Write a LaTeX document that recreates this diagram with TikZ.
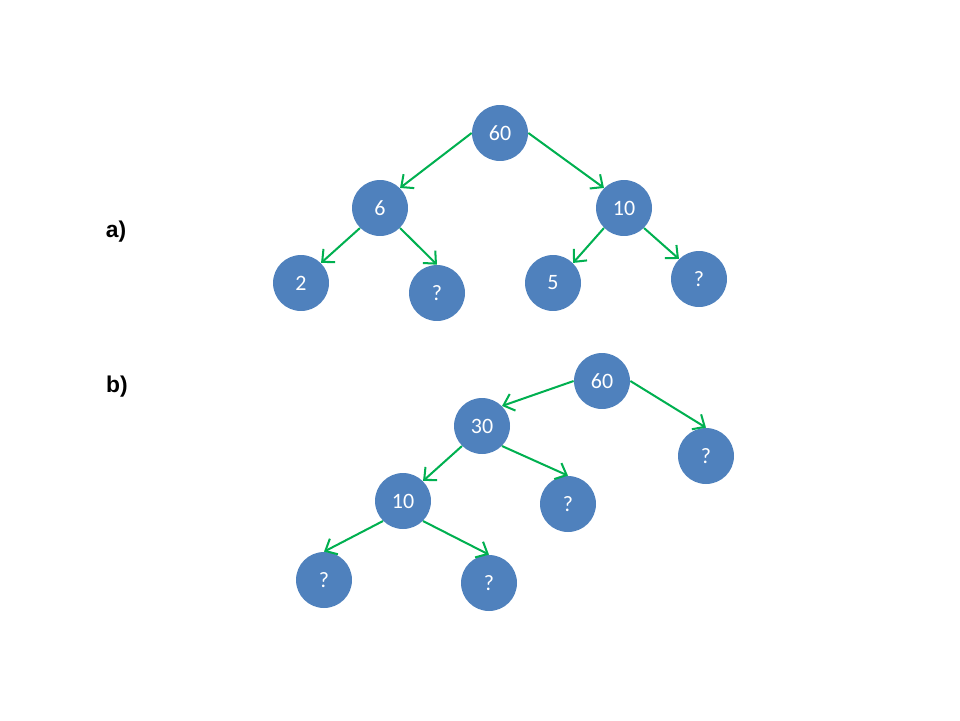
\documentclass[tikz,border=0pt]{standalone}
\usepackage{fontspec}
\setmainfont{Carlito}
\newfontfamily\labelfont{Liberation Sans}
\usetikzlibrary{positioning}
\usetikzlibrary{arrows.meta}
\definecolor{nodeblue}{HTML}{4F81BD}
\definecolor{edgegreen}{HTML}{00B050}
\tikzset{
	tnode/.style = {circle, fill = nodeblue, minimum size = 1.12cm, inner sep = 0pt, text = white, font = \fontsize{12.5}{14}\selectfont},
	tedge/.style = {edgegreen, line width = 1.15pt, -{Straight Barb[length = 5.5pt, width = 10pt]}},
	partlabel/.style = {font = \labelfont\bfseries\fontsize{13}{15}\selectfont}
}

\begin{document}
\begin{tikzpicture}[x = 0.02cm, y = -0.02cm]
					\useasboundingbox (0, 0) rectangle (960, 720);
					% part a
					\node[partlabel] (la) at (116, 232) {a)};
					\node[tnode] (a60) at (500, 133) {60};
					\node[tnode] (a6) at (380, 208) {6};
					\node[tnode] (a10) at (624, 208) {10};
					\node[tnode] (a2) at (301, 283) {2};
					\node[tnode] (aq1) at (437, 293) {?};
					\node[tnode] (a5) at (553, 283) {5};
					\node[tnode] (aq2) at (699, 279) {?};
					\draw[tedge] (a60.west)--(a6.north east);
					\draw[tedge] (a60.east)--(a10.north west);
					\draw[tedge] (a6.south west)--(a2.north east);
					\draw[tedge] (a6.south east)--(aq1.north);
					\draw[tedge] (a10.south west)--(a5.north east);
					\draw[tedge] (a10.south east)--(aq2.north west);
					% part b
					\node[partlabel] (lb) at (117, 387) {b)};
					\node[tnode] (b60) at (602, 381) {60};
					\node[tnode] (b30) at (482, 426) {30};
					\node[tnode] (bq1) at (706, 456) {?};
					\node[tnode] (b10) at (403, 501) {10};
					\node[tnode] (bq2) at (568, 504) {?};
					\node[tnode] (bq3) at (324, 580) {?};
					\node[tnode] (bq4) at (489, 583) {?};
					\draw[tedge] (b60.west)--(b30.north east);
					\draw[tedge] (b60.east)--(bq1.north);
					\draw[tedge] (b30.south west)--(b10.north east);
					\draw[tedge] (b30.south east)--(bq2.north);
					\draw[tedge] (b10.south west)--(bq3.north);
					\draw[tedge] (b10.south east)--(bq4.north);
				\end{tikzpicture}
\end{document}
